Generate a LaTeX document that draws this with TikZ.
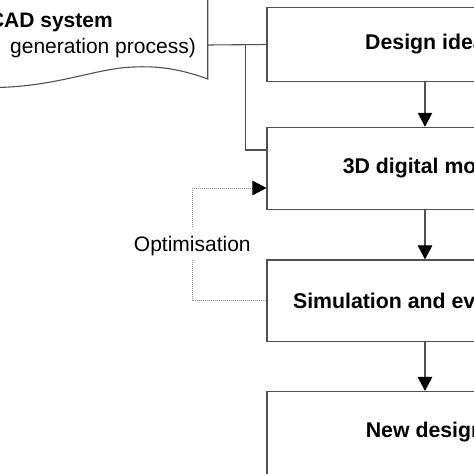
\documentclass[tikz,border=0pt]{standalone}
\usepackage{fontspec}
\setmainfont{Liberation Sans}
\usetikzlibrary{arrows.meta}
\definecolor{boxline}{HTML}{505050}
\definecolor{dotline}{HTML}{8C8C8C}
\begin{document}
\begin{tikzpicture}[x=1pt,y=-1pt,
  every node/.style={font=\fontsize{21}{25}\selectfont},
  stepbox/.style={draw=boxline,line width=1.1pt,rectangle,minimum width=316pt,inner sep=0pt,font=\fontsize{21.3}{25}\selectfont\bfseries},
  arr/.style={draw=boxline,line width=1.1pt,-{Triangle[length=14pt,width=14.5pt,color=black]}},
  link/.style={draw=boxline,line width=1.1pt},
  dots/.style={draw=dotline,line width=0.9pt,dash pattern=on 1pt off 1pt}]
\useasboundingbox (0,0) rectangle (474,474);
\fill[white] (0,0) rectangle (474,474);
% document shape
\draw[link] (207.7,-10) -- (207.7,79) .. controls (175,67) and (152,65.8) .. (128,67.3) .. controls (95,69.5) and (55,86) .. (0,87.4) .. controls (-20,88) .. (-40,87);
\node[anchor=base east,inner sep=0pt,font=\fontsize{21}{25}\selectfont\bfseries] (cad) at (113,27) {CAD system};
\node[anchor=base east,inner sep=0pt] (gen) at (196,53.5) {generation process)};
\coordinate (docR) at (207.7,45);
\coordinate (br) at (245.7,45);
% boxes
\node[stepbox,minimum height=74.4pt] (b1) at (425,44.5) {Design idea};
\node[stepbox,minimum height=82.2pt] (b2) at (425,168.4) {3D digital model};
\node[stepbox,minimum height=81.7pt] (b3) at (425,300.8) {Simulation and evaluation};
\node[stepbox,minimum height=84pt] (b4) at (425,433.5) {};
\node[font=\fontsize{21.3}{25}\selectfont\bfseries] (b4t) at (425,432) {New design};
% connectors
\draw[link] (docR) -- (b1.west);
\draw[link] (br) |- ([yshift=18.4pt]b2.west);
\draw[arr] (b1) -- (b2);
\draw[arr] (b2) -- (b3);
\draw[arr] (b3) -- (b4);
% optimisation loop
\node[anchor=base,inner sep=0pt] (opt) at (192.3,251.7) {Optimisation};
\coordinate (gapT) at (192.3,226.7);
\coordinate (gapB) at (192.3,260);
\draw[dots] (b3.west) -| (gapB);
\draw[dots,-{Triangle[length=14pt,width=14.5pt,color=black]}] (gapT) |- ([yshift=-19.6pt]b2.west);
\end{tikzpicture}
\end{document}
